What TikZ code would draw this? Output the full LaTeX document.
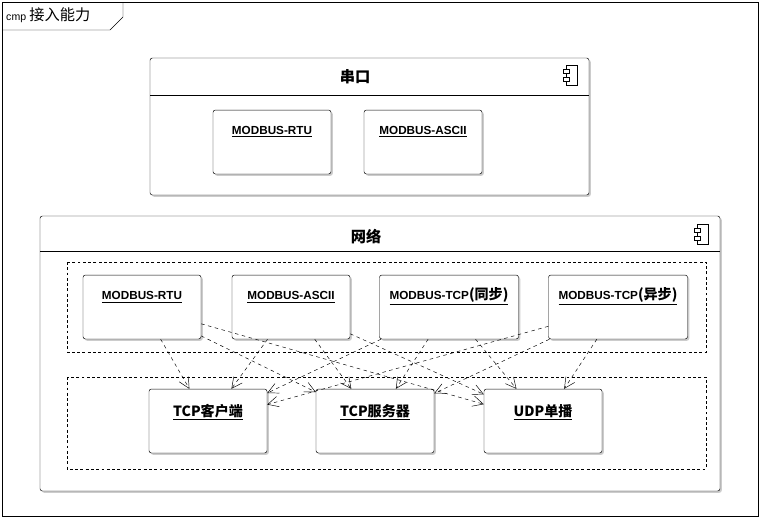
\documentclass[tikz,border=0pt]{standalone}
\usepackage{fontspec}
\setmainfont{Liberation Sans}
\newfontfamily\cjk{Noto Sans CJK SC}
\usetikzlibrary{arrows.meta,shadows}

\tikzset{
    box/.style={draw, thin, rounded corners=2pt, fill=white, drop shadow={shadow xshift=1.5pt, shadow yshift=-1.5pt, fill=black!20, opacity=1}},
    comp/.style={box, minimum width=118*0.03cm, text height=18pt, text depth=30pt, inner ysep=3.3pt, font=\bfseries\fontsize{10}{11}\selectfont},
    cjkcomp/.style={comp, font=\cjk\bfseries\fontsize{12}{13}\selectfont, text height=20pt, text depth=28pt},
    dep/.style={dashed, thin, -{Straight Barb[length=9pt,width=9pt]}},
    grp/.style={draw, thin, dash pattern=on 2.5pt off 2pt}
}
\newcommand{\ul}[1]{\underline{#1}}
\newcommand{\compicon}[2]{%
    \draw[thin] (#1+3,#2) rectangle (#1+14,#2+20);
    \draw[thin, fill=white] (#1,#2+4) rectangle (#1+6,#2+8);
    \draw[thin, fill=white] (#1,#2+12) rectangle (#1+6,#2+16);}

\begin{document}
\begin{tikzpicture}[x=0.03cm, y=-0.03cm]
    % Frame
    \useasboundingbox (0,0) rectangle (761,519);
    \draw[thin] (2,2) rectangle (758,516);
    \draw[thin] (2,30) -- (110,30) -- (123,17) -- (123,2);
    \node[anchor=west, inner sep=0pt] (title) at (6,15) {{\fontsize{9}{10}\selectfont cmp} {\cjk\fontsize{13}{14}\selectfont 接入能力}};

    % Serial
    \draw[box] (150,58) rectangle (589,195);
    \draw[thin] (150,95) -- (589,95);
    \node[font=\cjk\bfseries\fontsize{13}{14}\selectfont] (sertitle) at (355,77) {串口};
    \compicon{563}{65}
    \node[comp] (srtu) at (272,142) {\ul{MODBUS-RTU}};
    \node[comp] (sascii) at (423,142) {\ul{MODBUS-ASCII}};

    % Network
    \draw[box] (40,216) rectangle (720,491);
    \draw[thin] (40,251) -- (720,251);
    \node[font=\cjk\bfseries\fontsize{13}{14}\selectfont] (nettitle) at (366,237) {网络};
    \compicon{694}{224}
    \draw[grp] (67,262) rectangle (706,352);
    \draw[grp] (67,377) rectangle (706,469);

    % Protocols
    \node[comp] (rtu) at (142,307) {\ul{MODBUS-RTU}};
    \node[comp] (ascii) at (291,307) {\ul{MODBUS-ASCII}};
    \node[comp, minimum width=139*0.03cm] (tcps) at (449,307) {\ul{MODBUS-TCP{\cjk\fontsize{12}{13}\selectfont(同步)}}};
    \node[comp, minimum width=139*0.03cm] (tcpa) at (618,307) {\ul{MODBUS-TCP{\cjk\fontsize{12}{13}\selectfont(异步)}}};

    % Transports
    \node[cjkcomp] (client) at (208,421) {\ul{TCP客户端}};
    \node[cjkcomp] (server) at (375,421) {\ul{TCP服务器}};
    \node[cjkcomp] (udp) at (543,421) {\ul{UDP单播}};

    % Dependencies
    \foreach \s in {rtu, ascii, tcps, tcpa}
        \foreach \t in {client, server, udp}
            \draw[dep] (\s) -- (\t);
\end{tikzpicture}
\end{document}
